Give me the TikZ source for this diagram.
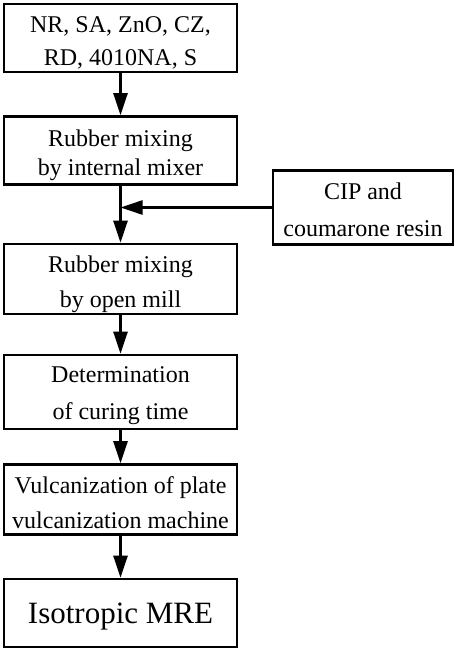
\documentclass[tikz,border=0pt]{standalone}
\usepackage{fontspec}
\setmainfont{Liberation Serif}
\usetikzlibrary{arrows.meta}
\newcommand{\boxtext}[3]{{\fontsize{24}{#2}\selectfont\raisebox{#1}[\height][\depth]{\begin{tabular}{@{}c@{}}#3\end{tabular}}}}
\begin{document}
\begin{tikzpicture}[x=1pt,y=1pt,
  procbox/.style={draw=black, line width=2.6pt, minimum width=233pt, minimum height=68pt,
    inner sep=0pt, align=center, font=\fontsize{24}{31}\selectfont},
  flow/.style={line width=2.5pt, -{Triangle[length=22pt,width=14pt]}}]
\useasboundingbox (0,0) rectangle (457,-652);
\node[procbox] (b1) at (120.5,-38) {\boxtext{-4pt}{33}{NR, SA, ZnO, CZ,\\RD, 4010NA, S}};
\node[procbox] (b2) at (120.5,-150.5) {\boxtext{-5pt}{29}{Rubber mixing\\by internal mixer}};
\node[procbox] (b3) at (120.5,-279) {\boxtext{-4pt}{35}{Rubber mixing\\by open mill}};
\node[procbox] (b4) at (120.5,-392) {\boxtext{-2pt}{37}{Determination\\of curing time}};
\node[procbox] (b5) at (120.5,-499.5) {\boxtext{-4pt}{35}{Vulcanization of plate\\vulcanization machine}};
\node[procbox, font=\fontsize{31}{36}\selectfont] (b6) at (120.5,-613) {\raisebox{-4pt}[\height][\depth]{Isotropic MRE}};
\node[procbox, minimum width=180pt, minimum height=69pt] (cip) at (363,-207.5) {\boxtext{-3pt}{37}{CIP and\\coumarone resin}};
\coordinate (j) at (b2.south |- cip.west);
\draw[flow] (b1) -- (b2);
\draw[flow] (b2) -- (b3);
\draw[flow] (cip.west) -- (j);
\draw[flow] (b3) -- (b4);
\draw[flow] (b4) -- (b5);
\draw[flow] (b5) -- (b6);
\end{tikzpicture}
\end{document}
